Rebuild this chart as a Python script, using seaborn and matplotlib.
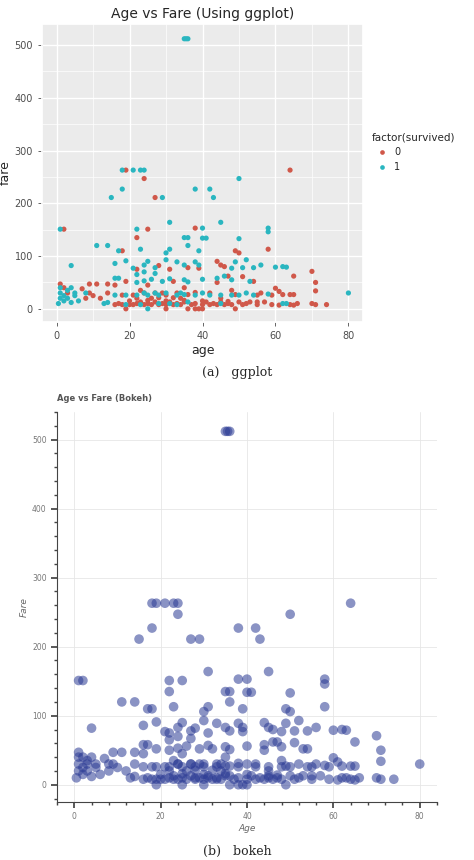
import numpy as np
import pandas as pd
import seaborn as sns
import matplotlib.pyplot as plt
from matplotlib.ticker import MultipleLocator

# survived = 1
age_s = [35, 36, 35.5, 18, 21, 23, 24, 18, 15, 29, 38, 42, 43, 50, 31, 45, 22, 1, 40, 58, 58,
         35, 36, 40, 41, 50, 36, 11, 14, 17, 23, 31, 39, 30, 4, 16, 19, 25, 30, 33, 38, 35, 39,
         21, 24, 27, 48, 49, 52, 51, 54, 56, 60, 62, 63, 24, 22, 27, 26, 31, 35, 40, 44, 46, 48,
         16, 17, 22, 24, 29, 36, 53, 0.5, 1, 1, 1, 2, 2, 3, 3, 4, 4, 5, 5, 6, 8, 13, 14, 16, 19,
         22, 24, 25, 27, 28, 30, 33, 35, 38, 40, 42, 45, 48, 50, 52, 54, 58, 62, 63, 80, 25, 28,
         33, 36, 45, 23, 19, 31, 34]
fare_s = [512, 512, 512, 263, 263, 263, 263, 227, 211, 211, 227, 227, 211, 247, 164, 164, 151, 151, 153, 153, 146,
          135, 135, 134, 134, 133, 120, 120, 120, 110, 113, 113, 110, 106, 82, 86, 91, 90, 93, 89, 89, 83, 83,
          77, 83, 78, 77, 89, 93, 78, 78, 83, 79, 80, 79, 70, 65, 67, 56, 57, 55, 56, 58, 62, 55,
          58, 58, 50, 53, 52, 51, 52, 10, 20, 30, 40, 15, 25, 35, 20, 40, 12, 25, 30, 15, 30, 10, 12, 26, 26,
          26, 30, 26, 30, 26, 30, 26, 27, 26, 30, 26, 26, 26, 26, 30, 26, 28, 10, 10, 30, 0, 10,
          8, 13, 10, 8, 8, 10, 30]
# survived = 0
age_d = [19, 64, 24, 27, 2, 25, 38, 22, 18, 49, 50, 58, 44, 45, 46, 28, 31, 22, 36, 39, 51, 47, 65, 70,
         71, 71, 44, 54, 25, 32, 14, 1, 9, 11, 16, 19, 60, 61, 62, 64, 65, 59, 55, 56, 48, 42, 38, 36,
         33, 30, 27, 24, 21, 18, 14, 9, 7, 3, 2, 8, 10, 12, 16, 17, 18, 19, 20, 21, 22, 23, 24, 25,
         26, 27, 28, 29, 30, 31, 32, 33, 34, 35, 36, 37, 38, 39, 40, 41, 42, 43, 44, 45, 46, 47, 48,
         49, 50, 51, 52, 53, 55, 57, 59, 61, 64, 65, 66, 70, 71, 74, 20, 25, 30, 35, 40, 28, 32, 26,
         34, 30, 38, 40, 22, 45, 55, 47, 49, 23, 29, 35]
fare_d = [263, 263, 247, 211, 151, 151, 153, 135, 110, 110, 106, 113, 90, 83, 80, 82, 75, 75, 78, 77, 61, 62, 62, 71,
          50, 34, 50, 52, 45, 52, 47, 47, 47, 47, 45, 52, 39, 33, 27, 27, 27, 26, 26, 30, 35, 30, 31, 27,
          30, 26, 30, 30, 26, 26, 30, 30, 38, 30, 40, 20, 25, 20, 8, 10, 8, 0, 8, 8, 10, 13, 8, 10,
          8, 13, 8, 10, 8, 13, 8, 10, 8, 13, 0, 8, 10, 0, 8, 13, 8, 10, 8, 13, 8, 10, 8,
          0, 13, 8, 10, 13, 8, 13, 8, 7, 8, 7, 10, 10, 8, 8, 15, 16, 15, 16, 15, 21, 21, 20,
          20, 0, 0, 0, 20, 20, 13, 14, 27, 35, 30, 40]

df = pd.DataFrame({
    'age': age_d + age_s,
    'fare': fare_d + fare_s,
    'survived': ['0'] * len(age_d) + ['1'] * len(age_s),
})

sns.set_theme(style="darkgrid", rc={'axes.facecolor': '#ebebeb', 'grid.color': 'white'})
fig = plt.figure(figsize=(4.74, 8.6), dpi=100)

# ---- top: ggplot look
ax1 = fig.add_axes([42 / 474, 1 - 322 / 860, 321 / 474, 298 / 860])
sns.scatterplot(data=df, x='age', y='fare', hue='survived', hue_order=['0', '1'],
                palette={'0': '#d0584a', '1': '#2ab6c0'}, s=14, edgecolor='none', ax=ax1)
ax1.set_xlim(-4, 84)
ax1.set_ylim(-25, 540)
ax1.set_xticks([0, 20, 40, 60, 80])
ax1.set_yticks([0, 100, 200, 300, 400, 500])
ax1.xaxis.set_minor_locator(MultipleLocator(10))
ax1.yaxis.set_minor_locator(MultipleLocator(50))
ax1.grid(which='major', color='white', lw=1.0)
ax1.grid(which='minor', color='white', lw=0.5)
ax1.tick_params(which='major', labelsize=7, labelcolor='#4d4d4d', color='#4d4d4d',
                length=3, width=0.6, left=True, bottom=True)
ax1.tick_params(which='minor', length=0)
ax1.set_xlabel('age', fontsize=9, labelpad=2)
ax1.set_ylabel('fare', fontsize=9, labelpad=2)
ax1.set_title('Age vs Fare (Using ggplot)', fontsize=10, pad=4)
leg = ax1.legend(title='factor(survived)', loc='center left', bbox_to_anchor=(1.01, 0.57),
                 frameon=False, fontsize=7, title_fontsize=7.5, markerscale=0.9,
                 handletextpad=0.3, alignment='left', borderaxespad=0.2)
fig.text(0.5, 1 - 376 / 860, '(a)   ggplot', ha='center', fontsize=9, family='DejaVu Serif')

# ---- bottom: bokeh look
ax2 = fig.add_axes([57 / 474, 1 - 802 / 860, 380 / 474, 390 / 860])
ax2.set_facecolor('white')
sns.scatterplot(data=df, x='age', y='fare', color='#2b3a94', alpha=0.55, s=48,
                edgecolor='none', legend=False, ax=ax2)
ax2.set_xlim(-4, 84)
ax2.set_ylim(-25, 540)
ax2.set_xticks([0, 20, 40, 60, 80])
ax2.set_yticks([0, 100, 200, 300, 400, 500])
ax2.xaxis.set_minor_locator(MultipleLocator(4))
ax2.yaxis.set_minor_locator(MultipleLocator(20))
ax2.grid(which='major', color='#e6e6e6', lw=0.6)
for side in ['top', 'right']:
    ax2.spines[side].set_visible(False)
for side in ['left', 'bottom']:
    ax2.spines[side].set_color('#444444')
    ax2.spines[side].set_linewidth(0.8)
ax2.tick_params(which='both', labelsize=5.5, labelcolor='#777777', direction='out', left=True, bottom=True)
ax2.tick_params(which='major', length=4, color='#444444')
ax2.tick_params(which='minor', length=2, color='#444444')
ax2.set_xlabel('Age', fontsize=6.5, style='italic', color='#666666', labelpad=2)
ax2.set_ylabel('Fare', fontsize=6.5, style='italic', color='#666666', labelpad=2)
ax2.set_title('Age vs Fare (Bokeh)', fontsize=6, fontweight='bold', color='#555555',
              loc='left', x=0.0, pad=8)
fig.text(0.5, 1 - 855 / 860, '(b)   bokeh', ha='center', fontsize=9, family='DejaVu Serif')

plt.savefig('out.png', dpi=100)
